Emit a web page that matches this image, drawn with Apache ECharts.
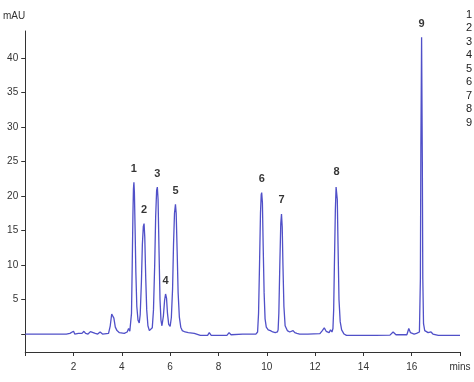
<!DOCTYPE html>
<html><head><meta charset="utf-8">
<script src="https://cdn.jsdelivr.net/npm/echarts@6/dist/echarts.min.js"></script>
<style>html,body{margin:0;padding:0;background:#fff}#c{width:474px;height:382px}</style>
</head><body><div id="c"></div>
<script>
// [time (min), signal (mAU)]
const traceEarly = [[0,0],[1.55,0],[1.62,0.15],[1.7,0],[1.85,0.1],[1.92,-0.1],[2.0,0.4],[2.05,0],[2.2,0.1],[2.35,0.1],[2.43,0.4],[2.5,0.1],[2.6,0],[2.7,0.35],[2.78,0.1],[2.9,0.1],[3.0,0.0],[3.1,0.3],[3.2,0.0],[3.45,0.1],[3.52,1.2],[3.58,2.9],[3.62,3.1],[3.67,2.3],[3.73,1.0],[3.8,0.5],[3.9,0.2],[4.1,0.1],[4.22,0.3],[4.28,0.8],[4.33,0.4]];
const tracePeaks1to5 = [[4.37,0.6],[4.40,3],[4.43,10],[4.46,17.5],[4.48,21],[4.50,22.0],[4.52,20.5],[4.55,15],[4.58,9],[4.62,4],[4.67,2.0],[4.72,1.6],[4.76,2.8],[4.81,7.5],[4.85,13],[4.89,15.6],[4.92,16.0],[4.95,14],[4.99,8],[5.03,3.5],[5.08,1.2],[5.14,0.5],[5.20,0.4],[5.26,0.9],[5.31,3.5],[5.36,10],[5.40,17],[5.44,20.8],[5.47,21.3],[5.50,19.5],[5.54,12],[5.58,5],[5.62,2],[5.66,1.2],[5.72,2.6],[5.77,4.9],[5.81,5.8],[5.85,5.2],[5.89,3.0],[5.94,1.4],[6.00,1.1],[6.05,2.4],[6.10,6.5],[6.14,13],[6.18,17.5],[6.22,18.8],[6.25,17.5],[6.29,12],[6.33,6],[6.38,2.5],[6.44,1.0],[6.50,0.5],[6.56,0.4],[6.62,0.3],[6.75,0.2],[7.0,0.1],[7.25,-0.2],[7.55,-0.2],[7.62,0.2],[7.7,-0.2],[8.35,-0.2],[8.44,0.2],[8.52,-0.1],[9.0,0.0]];
const tracePeaks6to8 = [[9.55,0],[9.62,0.3],[9.66,3],[9.70,10],[9.74,17.5],[9.77,20.2],[9.79,20.5],[9.82,19],[9.85,13],[9.89,6],[9.93,2.2],[9.98,1.0],[10.06,0.6],[10.15,0.5],[10.25,0.3],[10.35,0.2],[10.44,0.3],[10.47,0.6],[10.50,3],[10.54,10],[10.58,16],[10.61,17.4],[10.64,15.5],[10.67,10],[10.71,4],[10.76,1.2],[10.85,0.5],[10.95,0.3],[11.03,0.2],[11.09,0.5],[11.16,0.2],[11.25,0.1],[11.30,0.3],[11.36,0.0],[11.55,0.0],[11.62,0.15],[11.70,0.0],[12.2,0.05],[12.30,0.5],[12.38,0.9],[12.46,0.4],[12.53,0.3],[12.58,0.2],[12.64,0.6],[12.70,0.3],[12.74,0.8],[12.77,3.5],[12.80,10],[12.84,18],[12.87,21.3],[12.89,21.5],[12.92,19.5],[12.95,13],[12.99,5],[13.04,1.8],[13.10,0.6],[13.2,0.0],[13.3,-0.2]];
const tracePeak9 = [[14.5,-0.2],[15.1,-0.15],[15.23,0.3],[15.35,-0.1],[15.8,-0.1],[15.88,0.8],[15.95,0.2],[16.02,0.4],[16.10,0.0],[16.20,0.1],[16.32,0.3],[16.36,8],[16.38,27],[16.41,43.0],[16.44,25],[16.46,8],[16.49,1.5],[16.54,0.5],[16.62,0.5],[16.68,0.2],[16.80,0.3],[16.88,0.0],[17.1,-0.2],[17.17,-0.4],[17.25,-0.2],[18.0,-0.2]];

const peakNumbers = ['1','2','3','4','5','6','7','8','9'];
const peakTimes   = [4.50, 4.92, 5.47, 5.81, 6.22, 9.79, 10.61, 12.89, 16.41];
const peakHeights = [22.0, 16.0, 21.3, 5.8, 18.8, 20.5, 17.4, 21.5, 43.0];

const yTickValues  = [0, 5, 10, 15, 20, 25, 30, 35, 40];
const yLabelValues = [5, 10, 15, 20, 25, 30, 35, 40];
const xTickValues  = [0, 2, 4, 6, 8, 10, 12, 14, 16, 18];
const legendItems  = ['1', '2', '3', '4', '5', '6', '7', '8', '9'];

const trace = [].concat(traceEarly, tracePeaks1to5, tracePeaks6to8, tracePeak9);
const peakPoints = peakTimes.map((t, i) => ({ value: [t, peakHeights[i]], name: peakNumbers[i] }));

const font = 'Arial, "Liberation Sans", sans-serif';
const chart = echarts.init(document.getElementById('c'), null, { renderer: 'canvas' });
chart.setOption({
  animation: false,
  backgroundColor: '#fff',
  grid: { left: 23, right: 14, top: 31, bottom: 30, containLabel: false },
  xAxis: {
    type: 'value', min: 0, max: 18, interval: 2,
    axisLine: { onZero: false, lineStyle: { color: '#333', width: 1 } },
    axisTick: { show: true, length: 4, customValues: xTickValues, lineStyle: { color: '#333' } },
    axisLabel: {
      customValues: xTickValues, margin: 10, color: '#333', fontSize: 10, fontFamily: font,
      formatter: v => v === 0 ? '' : (v === 18 ? 'mins' : String(v))
    },
    splitLine: { show: false }
  },
  yAxis: {
    type: 'value', min: -2.6, max: 43.9,
    name: 'mAU', nameLocation: 'end', nameGap: 10,
    nameTextStyle: { color: '#333', fontSize: 10, fontFamily: font, align: 'right', padding: [0, 0, 0, 0] },
    axisLine: { show: true, lineStyle: { color: '#333', width: 1 } },
    axisTick: { show: true, length: 4, customValues: yTickValues, lineStyle: { color: '#333' } },
    axisLabel: { customValues: yLabelValues, margin: 7, color: '#333', fontSize: 10, fontFamily: font },
    splitLine: { show: false }
  },
  series: [
    {
      type: 'line', data: trace, showSymbol: false, smooth: false,
      lineStyle: { color: '#5050c8', width: 1.3 }, z: 2
    },
    {
      type: 'scatter', data: peakPoints, symbolSize: 0, z: 3,
      label: {
        show: true, position: 'top', distance: 8, formatter: p => p.name,
        color: '#000', fontWeight: 'bold', fontSize: 11, fontFamily: font
      }
    }
  ],
  graphic: legendItems.map((s, i) => ({
    type: 'text', left: 466, top: 9 + i * 13.5,
    style: { text: s, fill: '#222', font: '11px ' + font }
  }))
});
</script></body></html>
